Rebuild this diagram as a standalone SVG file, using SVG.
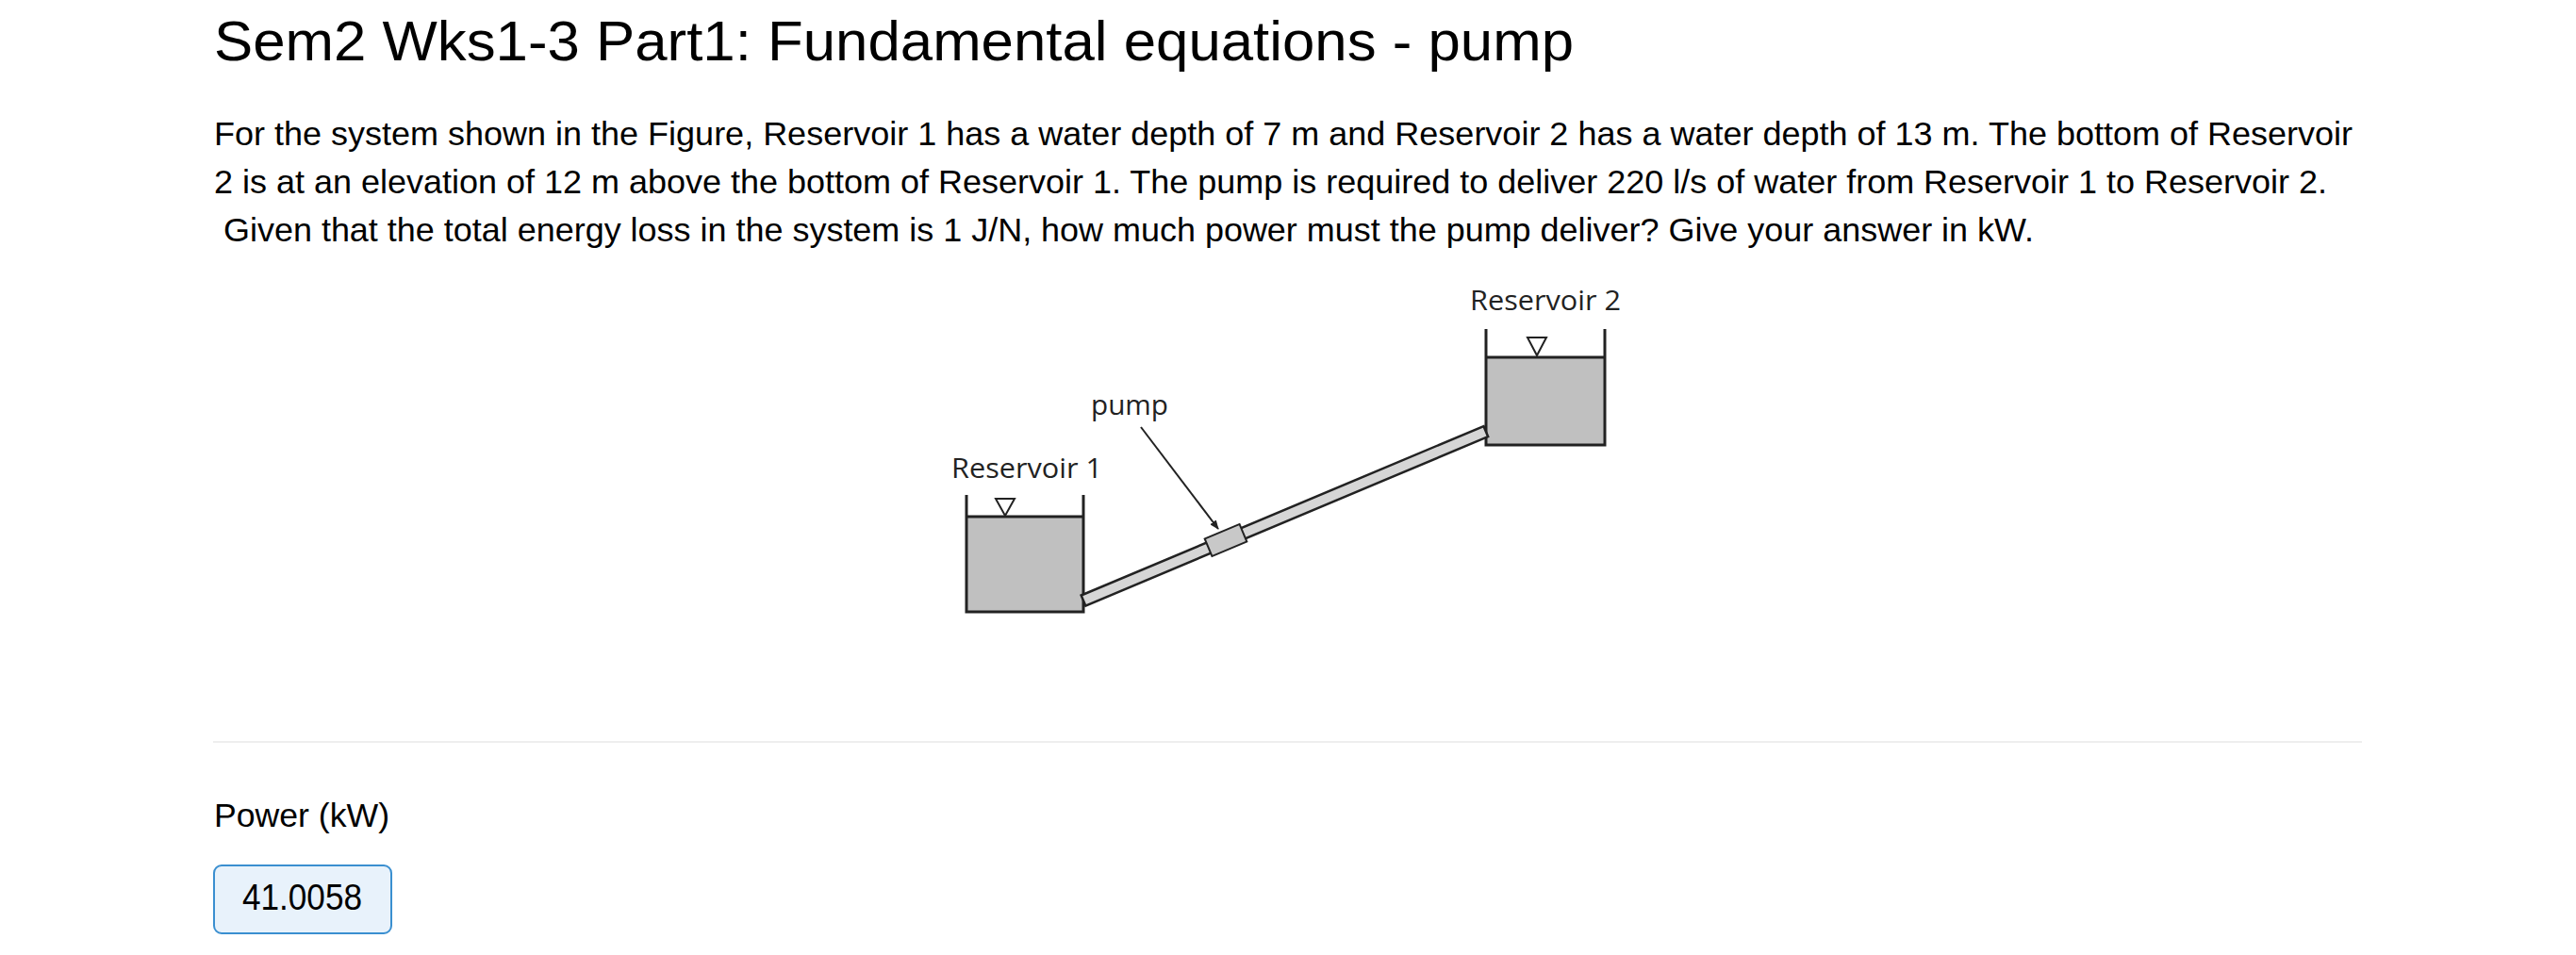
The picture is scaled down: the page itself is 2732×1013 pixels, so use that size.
<svg xmlns="http://www.w3.org/2000/svg" width="2732" height="1013" viewBox="0 0 2732 1013">
<style>
.t{font-family:"Liberation Sans",Arial,sans-serif;fill:#000}
.f{font-family:"Open Sans","Noto Sans",sans-serif;fill:#222;font-size:30px}
.w{fill:#c0c0c0;stroke:none}
.k{fill:none;stroke:#222;stroke-width:3}
</style>
<defs><marker id="ah" markerWidth="10" markerHeight="8" refX="9" refY="4" orient="auto" markerUnits="userSpaceOnUse"><path d="M0,0 L10,4 L0,8 z" fill="#222"/></marker></defs>
<rect width="2732" height="1013" fill="#fff"/>
<text class="t" x="227" y="64" font-size="60" textLength="1442" lengthAdjust="spacingAndGlyphs">Sem2 Wks1-3 Part1: Fundamental equations - pump</text>
<text class="t" x="227" y="154" font-size="35" textLength="2268" lengthAdjust="spacingAndGlyphs">For the system shown in the Figure, Reservoir 1 has a water depth of 7 m and Reservoir 2 has a water depth of 13 m. The bottom of Reservoir</text>
<text class="t" x="227" y="205" font-size="35" textLength="2241" lengthAdjust="spacingAndGlyphs">2 is at an elevation of 12 m above the bottom of Reservoir 1. The pump is required to deliver 220 l/s of water from Reservoir 1 to Reservoir 2.</text>
<text class="t" x="237" y="256" font-size="35" textLength="1920" lengthAdjust="spacingAndGlyphs">Given that the total energy loss in the system is 1 J/N, how much power must the pump deliver? Give your answer in kW.</text>
<g id="reservoir1">
<rect class="w" x="1025" y="548" width="124" height="101"/>
<path class="k" d="M1025,525 V649 H1149 V525 M1025,548 H1149"/>
<path d="M1056,529 H1076 L1066,547 z" fill="#fff" stroke="#222" stroke-width="2"/>
<text class="f" x="1009" y="507" textLength="160" lengthAdjust="spacingAndGlyphs">Reservoir 1</text>
</g>
<g id="reservoir2">
<rect class="w" x="1576" y="379" width="126" height="93"/>
<path class="k" d="M1576,349 V472 H1702 V349 M1576,379 H1702"/>
<path d="M1620,358 H1640 L1630,377 z" fill="#fff" stroke="#222" stroke-width="2"/>
<text class="f" x="1559" y="329" textLength="160" lengthAdjust="spacingAndGlyphs">Reservoir 2</text>
</g>
<g id="connectors">
<g transform="translate(1149,637) rotate(-22.8)">
<rect x="0" y="-6" width="463" height="12" fill="#d6d6d6" stroke="#222" stroke-width="2.5"/>
</g>
<line x1="1210" y1="453" x2="1292" y2="561" stroke="#222" stroke-width="2" marker-end="url(#ah)"/>
</g>
<g id="pump">
<rect x="-20" y="-10" width="40" height="20" transform="translate(1300,573) rotate(-22.8)" fill="#c8c8c8" stroke="#222" stroke-width="2"/>
<text class="f" x="1157" y="440" textLength="82" lengthAdjust="spacingAndGlyphs">pump</text>
</g>
<line x1="226" y1="787" x2="2505" y2="787" stroke="#eeeeee" stroke-width="2"/>
<text class="t" x="227" y="877" font-size="35" textLength="186" lengthAdjust="spacingAndGlyphs">Power (kW)</text>
<rect x="227" y="918" width="188" height="72" rx="8" fill="#e8f2fb" stroke="#3a8fd0" stroke-width="2"/>
<text class="t" x="257" y="965" font-size="38" textLength="127" lengthAdjust="spacingAndGlyphs">41.0058</text>
</svg>
